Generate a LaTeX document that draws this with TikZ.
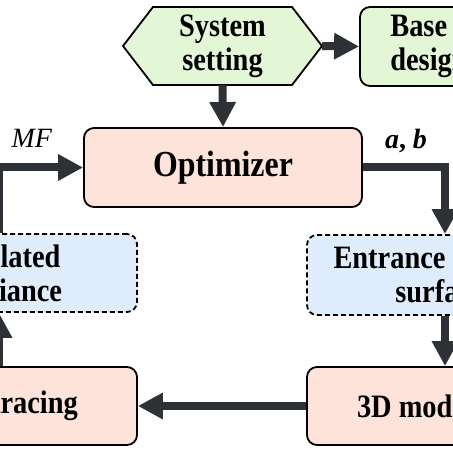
\documentclass[tikz,border=0pt]{standalone}
\usepackage{fontspec}
\setmainfont{Liberation Serif}
\usetikzlibrary{arrows.meta,calc}
\definecolor{boxpink}{HTML}{FDE3DA}
\definecolor{boxgreen}{HTML}{E3F6D6}
\definecolor{boxblue}{HTML}{DEECFB}
\definecolor{arrowgray}{HTML}{2E3236}
% Text in the boxes is drawn a little taller than wide
\newcommand{\tall}[1]{\scalebox{1}[1.15]{#1}}

\begin{document}
\begin{tikzpicture}[x=1bp,y=-1bp]
        % Styles for the boxes and the arrows
        \tikzstyle{boxfont}=[font=\fontsize{28.5}{34}\selectfont\bfseries];
        \tikzstyle{procbox}=[draw=black, line width=1.8bp, rounded corners=10bp, align=center, inner sep=0pt, boxfont];
        \tikzstyle{pinkbox}=[procbox, fill=boxpink];
        \tikzstyle{greenbox}=[procbox, fill=boxgreen];
        \tikzstyle{bluebox}=[procbox, fill=boxblue, dash pattern=on 5bp off 3bp];
        \tikzstyle{flow}=[line width=8bp, draw=arrowgray, -{Triangle[length=25bp,width=25bp]}];

        % Frame of the picture
        \useasboundingbox (0,0) rectangle (453,453);
        \clip (0,0) rectangle (453,453);

        % Draw the hexagon for the system setting
        \filldraw[fill=boxgreen, draw=black, line width=1.8bp]
            (123,46) -- (153,7) -- (292,7) -- (322,46) -- (292,85) -- (153,85) -- cycle;
        \node (sys) at (222.5,46) [minimum width=199bp, minimum height=78bp, align=center, inner sep=0pt, boxfont] {\tall{System}\\\tall{setting}};

        % Draw the boxes
        \node[greenbox, align=left, minimum width=138bp, minimum height=79bp] (base) at (429,46.5) {\tall{Base}\\\tall{design}};
        \node[pinkbox, minimum width=278bp, minimum height=79bp, font=\fontsize{32}{34}\selectfont\bfseries] (opt) at (223,167.5) {\tall{Optimizer}};
        \node[bluebox, minimum width=265bp, minimum height=80bp] (ent) at (439.5,275) {\tall{Entrance}\hspace*{100bp}\\\tall{surface}};
        \node[bluebox, minimum width=276bp, minimum height=78bp] (sim) at (-1,273) {\tall{Simulated}\\\tall{irradiance}};
        \node[pinkbox, minimum width=261bp, minimum height=78bp] (ray) at (6.5,406) {\tall{Ray tracing}};
        \node[pinkbox, minimum width=216bp, minimum height=78bp] (model) at (415,406) {\tall{3D model}};

        % Corner of the feedback loop
        \coordinate (loop) at (-1,168);
        \coordinate (drop) at (445,168);

        % Draw the arrows
        \draw[flow] (sys.east) -- (base.west);
        \draw[flow] (sys.south) -- (opt.north);
        \draw[flow] (opt.east) -| (drop |- ent.north);
        \draw[flow] (ent.south -| drop) -- (drop |- model.north);
        \draw[flow] (model.west) -- (ray.east);
        \draw[flow] (ray.north -| loop) -- (sim.south -| loop);
        \draw[flow] (sim.north -| loop) |- (opt.west);

        % Labels of the loop
        \node (mf) at (32,138) {\fontsize{28}{30}\selectfont\textit{MF}};
        \node (ab) at (406,141) {\fontsize{28}{30}\selectfont\bfseries\textit{a}, \textit{b}};

    \end{tikzpicture}
\end{document}
